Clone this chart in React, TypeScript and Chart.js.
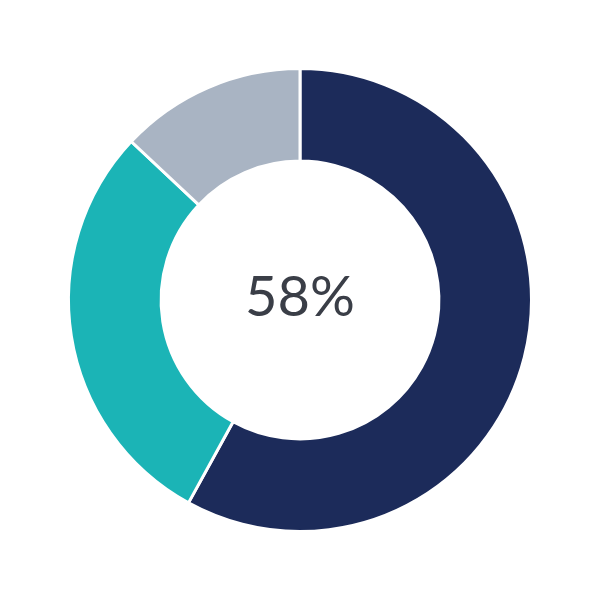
import React, { useEffect, useRef } from "react";
import Chart from "chart.js/auto";

const labels = ["Primary", "Secondary", "Other"];
const values = [58, 29, 13];
const colors = ["#1c2b5a", "#1bb4b6", "#a9b4c3"];
const centerLabel = "58%";

const centerText = {
  id: "centerText",
  afterDraw(chart: Chart) {
    const { ctx, chartArea } = chart;
    const x = (chartArea.left + chartArea.right) / 2;
    const y = (chartArea.top + chartArea.bottom) / 2;
    ctx.save();
    ctx.font = "400 56px Lato, sans-serif";
    ctx.fillStyle = "#3a3e47";
    ctx.textAlign = "center";
    ctx.textBaseline = "middle";
    ctx.fillText(centerLabel, x, y - 2);
    ctx.restore();
  },
};

const App: React.FC = () => {
  const canvas = useRef<HTMLCanvasElement>(null);

  useEffect(() => {
    document.body.style.margin = "0";
    const chart = new Chart(canvas.current!.getContext("2d")!, {
      type: "doughnut",
      data: {
        labels,
        datasets: [
          {
            data: values,
            backgroundColor: colors,
            borderColor: "#ffffff",
            borderWidth: 3,
          },
        ],
      },
      options: {
        responsive: true,
        maintainAspectRatio: false,
        animation: false,
        cutout: "60%",
        layout: { padding: 67 },
        plugins: {
          legend: { display: false },
          tooltip: { enabled: false },
        },
      },
      plugins: [centerText],
    });

    return () => {
      chart.destroy();
    };
  }, []);

  return (
    <div style={{ width: 600, height: 600, position: "relative" }}>
      <canvas ref={canvas}></canvas>
    </div>
  );
};

export default App;
